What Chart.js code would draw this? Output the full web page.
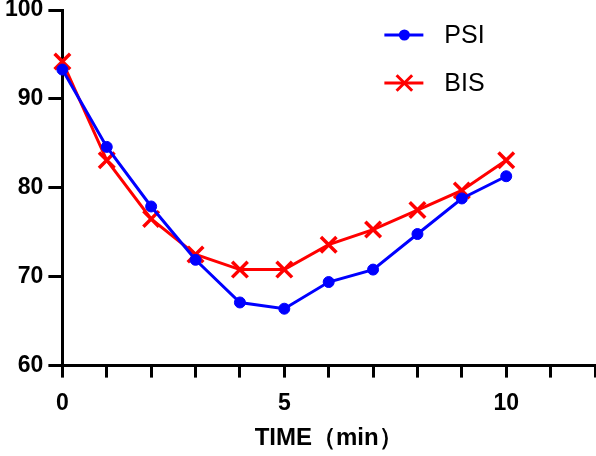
<!DOCTYPE html>
<html>
<head>
<meta charset="utf-8">
<script src="https://cdn.jsdelivr.net/npm/chart.js@4"></script>
<style>
  html, body { margin: 0; padding: 0; background: #fff; }
  #wrap { width: 596px; height: 456px; }
</style>
</head>
<body>
<div id="wrap"><canvas id="myChart"></canvas></div>
<script>
const times = [0, 1, 2, 3, 4, 5, 6, 7, 8, 9, 10];
const psi = [93.3, 84.6, 77.9, 71.9, 67.1, 66.4, 69.4, 70.8, 74.8, 78.8, 81.3];
const bis = [94.2, 83.1, 76.5, 72.5, 70.8, 70.8, 73.6, 75.3, 77.5, 79.7, 83.1];
const xLabels = [0, 5, 10];
const yTicks = [60, 70, 80, 90, 100];

const blue = '#0000ff';
const red = '#ff0000';
const font = 'Arial, "Liberation Sans", sans-serif';

// legend with line + marker, drawn by hand
const lineLegend = {
    id: 'lineLegend',
    afterDraw(chart) {
        const c = chart.ctx;
        const area = chart.chartArea;
        const x0 = area.left + 322;
        const items = chart.data.datasets;
        items.forEach((ds, i) => {
            const y = area.top + 25 + i * 48;
            c.save();
            c.strokeStyle = ds.borderColor;
            c.fillStyle = ds.borderColor;
            c.lineWidth = 3;
            c.beginPath();
            c.moveTo(x0, y);
            c.lineTo(x0 + 39, y);
            c.stroke();
            Chart.helpers.drawPoint(c, {
                pointStyle: ds.pointStyle,
                radius: ds.pointStyle === 'crossRot' ? 11 : 4,
                borderWidth: 3
            }, x0 + 20, y);
            c.fillStyle = '#000';
            c.font = '25px ' + font;
            c.textBaseline = 'middle';
            c.fillText(ds.label, x0 + 60, y + 1);
            c.restore();
        });
    }
};

const ctx = document.getElementById('myChart').getContext('2d');
const myChart = new Chart(ctx, {
    type: 'line',
    data: {
        datasets: [{
            label: 'PSI',
            data: times.map((t, i) => ({ x: t, y: psi[i] })),
            borderColor: blue,
            backgroundColor: blue,
            borderWidth: 3,
            pointStyle: 'circle',
            pointRadius: 5.5,
            pointBorderWidth: 1,
            clip: false
        }, {
            label: 'BIS',
            data: times.map((t, i) => ({ x: t, y: bis[i] })),
            borderColor: red,
            backgroundColor: red,
            borderWidth: 3,
            pointStyle: 'crossRot',
            pointRadius: 11,
            pointBorderWidth: 3.5,
            clip: false
        }]
    },
    options: {
        responsive: true,
        maintainAspectRatio: false,
        animation: false,
        layout: { autoPadding: false, padding: { top: 10, right: 1, left: 0, bottom: 3 } },
        scales: {
            x: {
                type: 'linear',
                min: 0,
                max: 12,
                afterFit: axis => { axis.paddingRight = 0; },
                grid: {
                    drawOnChartArea: false,
                    tickLength: 12,
                    tickWidth: 3,
                    tickColor: '#000'
                },
                border: { width: 3, color: '#000' },
                ticks: {
                    stepSize: 1,
                    autoSkip: false,
                    maxRotation: 0,
                    color: '#000',
                    padding: 12,
                    font: { family: font, size: 23, weight: 'bold' },
                    callback: v => xLabels.includes(v) ? String(v) : ''
                },
                title: {
                    display: true,
                    text: 'TIME（min）',
                    color: '#000',
                    padding: { top: -5, bottom: 0 },
                    font: { family: font, size: 24, weight: 'bold' }
                }
            },
            y: {
                min: 60,
                max: 100,
                afterFit: axis => { axis.paddingTop = 0; },
                grid: {
                    drawOnChartArea: false,
                    tickLength: 14,
                    tickWidth: 3,
                    tickColor: '#000'
                },
                border: { width: 3, color: '#000' },
                afterBuildTicks: axis => { axis.ticks = yTicks.map(v => ({ value: v })); },
                ticks: {
                    color: '#000',
                    padding: 5,
                    font: { family: font, size: 23, weight: 'bold' }
                }
            }
        },
        plugins: {
            legend: { display: false },
            tooltip: { enabled: false }
        }
    },
    plugins: [lineLegend]
});
</script>
</body>
</html>
